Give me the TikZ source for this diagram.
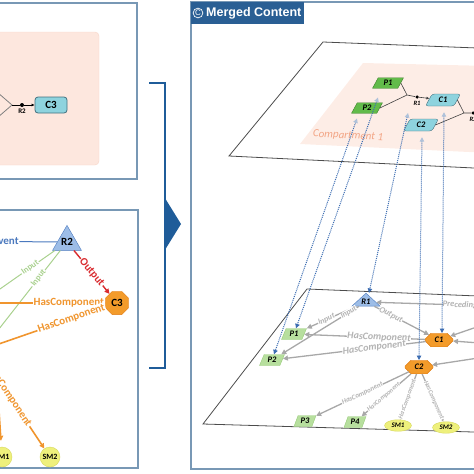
\documentclass[tikz,border=0pt]{standalone}
\usepackage{fontspec}
\setmainfont{Carlito}
\newfontfamily\headfont{Liberation Sans}
\usetikzlibrary{arrows.meta,positioning,shapes.geometric,shapes.misc}
\definecolor{frameblue}{HTML}{7898B5}
\definecolor{darkblue}{HTML}{1F5C99}
\definecolor{headblue}{HTML}{2A5F94}
\definecolor{comppink}{HTML}{FDE7DE}
\definecolor{compline}{HTML}{F7D5C7}
\definecolor{compsalmon}{HTML}{F2A585}
\definecolor{cfill}{HTML}{8ED3DE}
\definecolor{cline}{HTML}{41707E}
\definecolor{pfill}{HTML}{62BB4A}
\definecolor{pline}{HTML}{3E7F2C}
\definecolor{lightp}{HTML}{B7DF9E}
\definecolor{lightpline}{HTML}{98CB7A}
\definecolor{octfill}{HTML}{F39B2A}
\definecolor{octline}{HTML}{E07A12}
\definecolor{smfill}{HTML}{EEF07C}
\definecolor{smline}{HTML}{D6D85C}
\definecolor{rfill}{HTML}{9DBDE7}
\definecolor{rline}{HTML}{4B79BE}
\definecolor{dotblue}{HTML}{3C6DB2}
\definecolor{tipblue}{HTML}{AFC2DA}
\definecolor{relgray}{HTML}{A8A8A8}
\definecolor{labgray}{HTML}{B3B3B3}
\definecolor{inputgreen}{HTML}{A9D18E}
\definecolor{outred}{HTML}{D92B2F}
\definecolor{hasorange}{HTML}{F0952E}
\tikzset{
  panel/.style={draw=frameblue, line width=1.1pt},
  layer/.style={draw=black!70, line width=0.8pt},
  dotnode/.style={circle, fill=black, inner sep=0pt, minimum size=4pt},
  smalltxt/.style={inner sep=0pt, font=\bfseries\itshape\fontsize{6.5}{6.5}\selectfont},
  ptop/.style={trapezium, trapezium left angle=65, trapezium right angle=115,
    trapezium stretches=true, draw=pline, fill=pfill, inner sep=0pt,
    minimum width=31pt, minimum height=10.5pt,
    font=\bfseries\itshape\fontsize{8.5}{8.5}\selectfont},
  ctop/.style={ptop, draw=cline, fill=cfill, rounded corners=2.5pt,
    minimum width=35pt, minimum height=12pt},
  pbot/.style={ptop, draw=lightpline, fill=lightp, minimum width=25pt, minimum height=11pt},
  obot/.style={chamfered rectangle, chamfered rectangle xsep=3pt, draw=octline, fill=octfill,
    inner sep=0pt, minimum width=28pt, minimum height=13.5pt,
    font=\bfseries\itshape\fontsize{8.5}{8.5}\selectfont},
  smbot/.style={ellipse, draw=smline, fill=smfill, inner sep=0pt,
    minimum width=27pt, minimum height=11.5pt,
    font=\bfseries\itshape\fontsize{7}{7}\selectfont},
  rbot/.style={isosceles triangle, isosceles triangle apex angle=120, shape border rotate=90,
    isosceles triangle stretches=true, draw=rline, fill=rfill, inner sep=0pt,
    minimum width=27pt, minimum height=13pt,
    font=\bfseries\itshape\fontsize{8.5}{8.5}\selectfont},
  cleft/.style={rectangle, rounded corners=3pt, draw=cline, fill=cfill, line width=0.8pt,
    minimum width=32pt, minimum height=16pt, inner sep=0pt,
    font=\bfseries\fontsize{11}{11}\selectfont},
  rleft/.style={regular polygon, regular polygon sides=3, draw=rline, fill=rfill,
    minimum size=31pt, inner sep=0pt, font=\bfseries\fontsize{11}{11}\selectfont},
  oleft/.style={regular polygon, regular polygon sides=8, draw=octline, fill=octfill,
    minimum size=25pt, inner sep=0pt, font=\bfseries\fontsize{11}{11}\selectfont},
  smleft/.style={circle, draw=smline, fill=smfill, minimum size=20pt, inner sep=0pt,
    font=\bfseries\fontsize{8}{8}\selectfont},
  lab/.style={sloped, fill=white, inner sep=0.8pt, font=\bfseries\fontsize{11}{11}\selectfont},
  rel/.style={draw=relgray, line width=1.3pt, -{Triangle[length=5pt,width=5pt]}},
  rlab/.style={sloped, fill=white, inner sep=0.3pt, text=labgray,
    font=\bfseries\itshape\fontsize{10}{10}\selectfont},
  mapline/.style={draw=dotblue, line width=1pt, dash pattern=on 1pt off 1pt,
    {Triangle[length=4.5pt,width=4.5pt,color=tipblue]}-{Triangle[length=4.5pt,width=4.5pt,color=dotblue]}}
}
\begin{document}
\begin{tikzpicture}[x=1pt, y=-1pt]
\useasboundingbox (0,0) rectangle (474,474);
\clip (0,0) rectangle (474,474);
% left top panel
\draw[panel] (-5,3) rectangle (137,179);
\draw[draw=compline, fill=comppink, rounded corners=4pt] (-5,32) rectangle (99,165);
\coordinate (inA) at (-3,92);
\coordinate (inB) at (-3,118);
\coordinate (jR2) at (12,105);
\node[dotnode] (R2dot) at (22,105) {};
\node[smalltxt, font=\bfseries\fontsize{7}{7}\selectfont, below=2pt of R2dot] (R2lab) {R2};
\node[cleft] (C3a) at (51,105) {C3};
\draw[black!50, line width=0.8pt] (inA) -- (jR2) -- (inB);
\draw[line width=0.7pt] (jR2) -- (R2dot);
\draw[line width=0.7pt, -{Latex[length=3pt,width=3pt]}] (R2dot) -- (C3a);
% bracket
\draw[darkblue, line width=1.5pt] (149,83) -- (165,83) -- (165,368) -- (149,368);
\fill[darkblue] (164.3,197) -- (181,224) -- (164.3,251) -- cycle;
% left bottom panel
\draw[panel] (-5,210) rectangle (138,468);
\node[rleft] (R2b) at (67,242) {R2};
\node[oleft] (C3b) at (117,303) {C3};
\node[smleft] (SM1b) at (2,457) {SM1};
\node[smleft] (SM2b) at (50,457) {SM2};
\coordinate (preL) at (-70,241);
\coordinate (inL1) at (-30,310);
\coordinate (inL2) at (-30,366);
\coordinate (hcL1) at (-30,303);
\coordinate (hcL2) at (-30,354);
\coordinate (hcL3) at (-10,367);
\coordinate (hcL4) at (-2,395);
\draw[rline, line width=1pt] (preL) -- node[lab, text=rline, pos=0.42] {PrecedingEvent} (R2b);
\draw[inputgreen, line width=1pt] (R2b) -- node[lab, text=inputgreen, pos=0.29, font=\bfseries\fontsize{8.5}{8.5}\selectfont] {Input} (inL1);
\draw[inputgreen, line width=1pt] (R2b) -- node[lab, text=inputgreen, pos=0.24, font=\bfseries\fontsize{8.5}{8.5}\selectfont] {Input} (inL2);
\draw[outred, line width=1.4pt, -{Triangle[length=5pt,width=5pt]}] (R2b) -- node[lab, text=outred] {Output} (C3b);
\draw[hasorange, line width=1.6pt] (C3b) -- node[lab, text=hasorange, pos=0.27] {HasComponent} (hcL1);
\draw[hasorange, line width=1.6pt] (C3b) -- node[lab, text=hasorange, pos=0.25] {HasComponent} (hcL2);
\draw[hasorange, line width=1.6pt, -{Triangle[length=5pt,width=5pt]}] (hcL3) -- node[lab, text=hasorange, pos=0.36] {HasComponent} (SM2b);
\draw[hasorange, line width=1.6pt, -{Triangle[length=5pt,width=5pt]}, shorten >=6pt] (hcL4) -- (SM1b);
% right panel
\draw[panel] (191,2) rectangle (490,469);
\fill[headblue] (190.5,1.5) rectangle (304,24);
\node[circle, draw=white, line width=0.7pt, inner sep=0.6pt, text=white,
  font=\headfont\fontsize{8}{8}\selectfont] (badge) at (198,13) {C};
\node[anchor=west, text=white, inner sep=0pt,
  font=\headfont\bfseries\fontsize{12.5}{12.5}\selectfont] (title) at (206,13.5) {Merged Content};
% layers
\draw[layer] (490,48.5) -- (323,42) -- (229,156) -- (490,168.8);
\fill[comppink, opacity=.75] (363,63) -- (490,66) -- (490,153) -- (300,144) -- cycle;
\node[font=\itshape\fontsize{11}{11}\selectfont, text=compsalmon, rotate=-3] (comp) at (348,136) {Compartment 1};
\draw[layer] (490,296.5) -- (307,289) -- (203,424) -- (490,432.5);
% top layer
\node[ptop] (P1t) at (388,83) {P1};
\node[ptop] (P2t) at (367,108) {P2};
\node[ctop] (C1t) at (443,100) {C1};
\node[ctop] (C2t) at (421,125) {C2};
\node[dotnode, minimum size=3.5pt] (R1t) at (417,97) {};
\node[smalltxt, below=2pt of R1t] (R1tl) {R1};
\node[dotnode, minimum size=3.5pt] (R2t) at (473,113) {};
\node[smalltxt, below=2pt of R2t] (R2tl) {R2};
\coordinate (jR1) at (407,95);
\coordinate (jR2t) at (464,113);
\draw[black!75, line width=0.6pt] (P1t.east) -- (jR1) (P2t.east) -- (jR1) -- (R1t);
\draw[black!75, line width=0.6pt, -{Latex[length=3pt,width=3pt]}] (R1t) -- (C1t);
\draw[black!75, line width=0.6pt] (C1t.east) -- (jR2t) (C2t.east) -- (jR2t) -- (R2t);
% bottom layer
\node[rbot] (R1b) at (366,302) {R1};
\node[pbot] (P1b) at (294,334) {P1};
\node[pbot] (P2b) at (272,360) {P2};
\node[obot] (C1b) at (439,340) {C1};
\node[obot] (C2b) at (419,367) {C2};
\node[pbot, minimum width=22pt] (P3b) at (305,421) {P3};
\node[pbot, minimum width=22pt] (P4b) at (355,422) {P4};
\node[smbot] (SM1b) at (398,425.5) {SM1};
\node[smbot] (SM2b) at (446,427.5) {SM2};
\coordinate (eR1) at (510,306.5);
\coordinate (eC1a) at (500,319);
\coordinate (eC1b) at (500,344.5);
\coordinate (eC2) at (500,354.7);
\draw[rel] (R1b) -- node[rlab, pos=.6, font=\bfseries\itshape\fontsize{8}{8}\selectfont] {Input} (P1b);
\draw[rel] (R1b) -- node[rlab, pos=.13, font=\bfseries\itshape\fontsize{8}{8}\selectfont] {Input} (P2b);
\draw[rel] (R1b) -- node[rlab, pos=.3, font=\bfseries\itshape\fontsize{8.5}{8.5}\selectfont] {Output} (C1b);
\draw[rel] (C1b) -- node[rlab, pos=.38] {HasComponent} (P1b);
\draw[rel] (C1b) -- node[rlab, pos=.36] {HasComponent} (P2b);
\draw[rel] (C2b) -- node[rlab, pos=.5, font=\bfseries\itshape\fontsize{7}{7}\selectfont] {HasComponent} (P3b);
\draw[rel] (C2b) -- node[rlab, pos=.55, font=\bfseries\itshape\fontsize{6.5}{6.5}\selectfont] {HasComponent} (P4b);
\draw[rel] (C2b) -- node[rlab, pos=.55, font=\bfseries\itshape\fontsize{6.5}{6.5}\selectfont] {HasComponent} (SM1b);
\draw[rel] (C2b) -- node[rlab, pos=.55, font=\bfseries\itshape\fontsize{6.5}{6.5}\selectfont] {HasComponent} (SM2b);
\draw[rel] (eR1) -- node[rlab, pos=.3, font=\bfseries\itshape\fontsize{8.5}{8.5}\selectfont] {PrecedingEvent} (R1b);
\draw[rel] (eC1a) -- (C1b);
\draw[rel] (eC1b) -- (C1b);
\draw[rel] (eC2) -- (C2b);
% mappings
\draw[mapline] ([shift={(-10,5)}]P2t.south) -- ([xshift=2pt]P2b.north);
\draw[mapline] ([shift={(-10,9)}]P1t.south) -- ([xshift=2pt]P1b.north);
\draw[mapline] ([shift={(-9,16)}]R1t.center) -- ([xshift=3pt]R1b.apex);
\draw[mapline] ([shift={(1,6)}]C2t.south) -- (C2b.north);
\draw[mapline] ([shift={(1,6)}]C1t.south) -- ([xshift=3pt]C1b.north);
\end{tikzpicture}
\end{document}
